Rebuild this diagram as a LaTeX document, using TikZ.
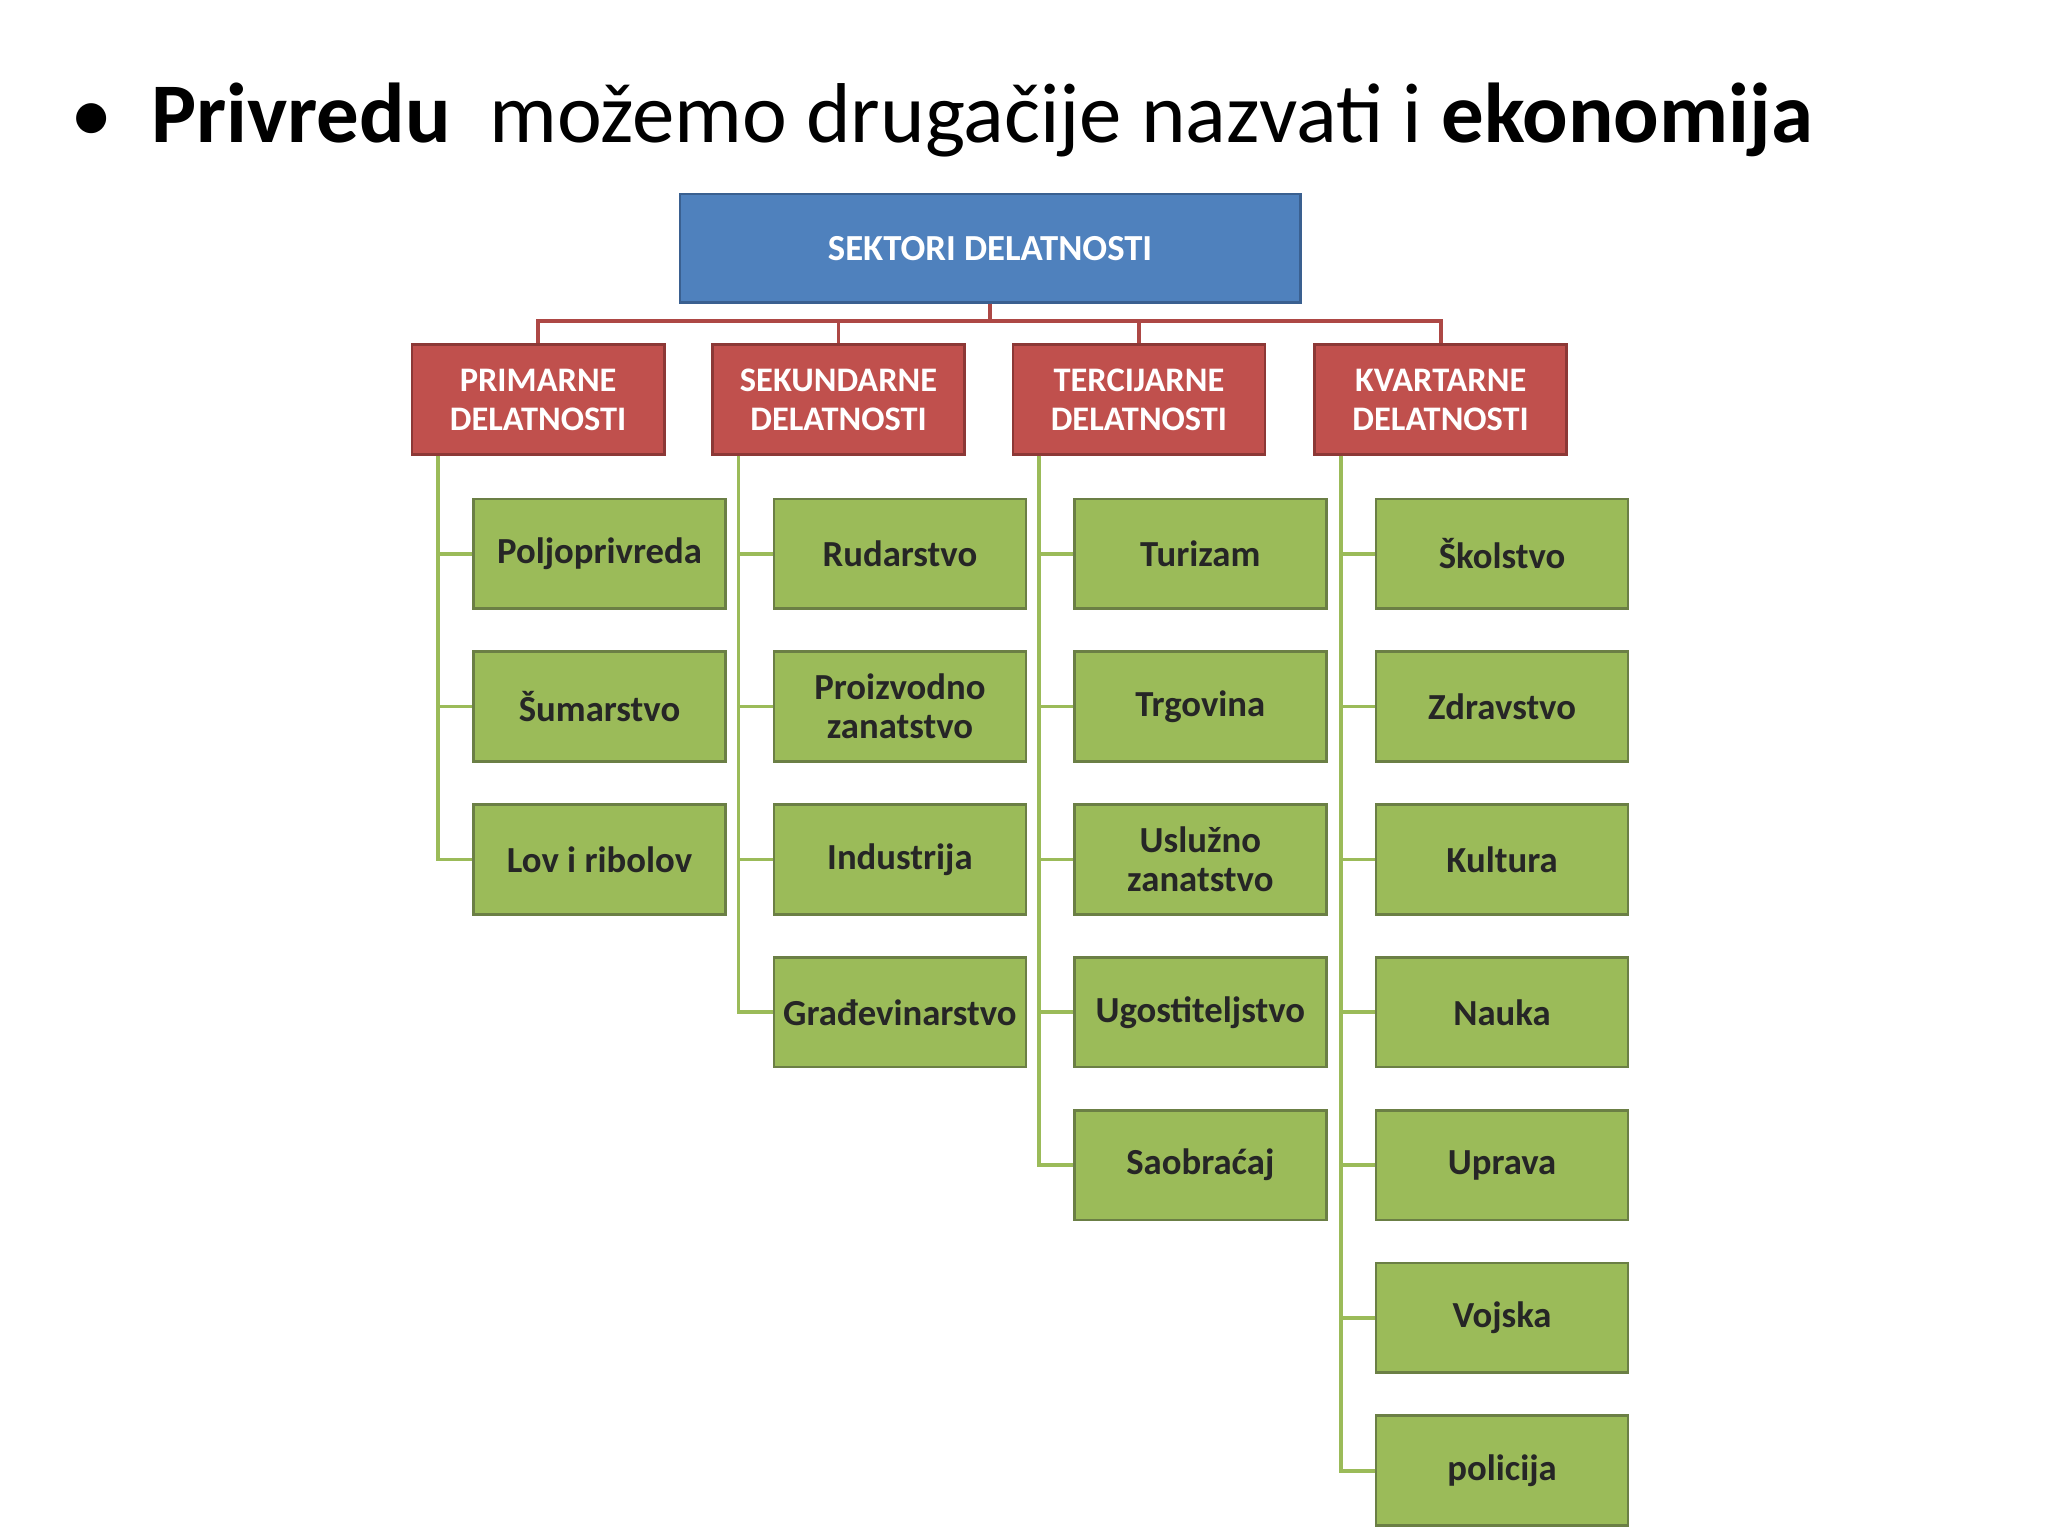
\documentclass[tikz,border=0pt]{standalone}
\usepackage{fontspec}
\setmainfont{Carlito}
\begin{document}
\begin{tikzpicture}[x=0.02cm,y=-0.02cm,
 box/.style={minimum width=3.86cm,minimum height=1.68cm,inner sep=1pt,align=center,line width=1.2pt,font=\bfseries\fontsize{16}{17}\selectfont},
 topbox/.style={box,minimum width=9.5cm,minimum height=1.66cm,fill=blueF,draw=blueD,text=white},
 redbox/.style={box,fill=redF,draw=redD,text=white,font=\bfseries\fontsize{15}{17}\selectfont},
 greenbox/.style={box,fill=greenF,draw=greenD,text=black!85},
 redline/.style={draw=redF!90!black,line width=1.6pt},
 greenline/.style={draw=greenF,line width=1.6pt}]
\definecolor{blueF}{HTML}{4F81BD}\definecolor{blueD}{HTML}{3A6090}
\definecolor{redF}{HTML}{C0504D}\definecolor{redD}{HTML}{8C3836}
\definecolor{greenF}{HTML}{9BBB59}\definecolor{greenD}{HTML}{6B7F45}
\useasboundingbox[fill=white] (0,0) rectangle (1568,1176);
\node[anchor=west,font=\fontsize{37}{40}\selectfont] (title) at (48,92) {\textbullet\hspace{0.45em}\textbf{Privredu}\ \ možemo drugačije nazvati i \textbf{ekonomija}};
\node[topbox] (top) at (758,190) {SEKTORI DELATNOSTI};
\coordinate (bus) at (758,246);
\foreach \n/\x/\t in {p/412/{PRIMARNE\\DELATNOSTI},s/642/{SEKUNDARNE\\DELATNOSTI},t/872/{TERCIJARNE\\DELATNOSTI},k/1103/{KVARTARNE\\DELATNOSTI}}{
 \node[redbox] (\n) at (\x,306) {\t};
 \draw[redline] (top.south) -- (top.south |- bus) -| (\n.north);
}
\foreach \n/\x/\list in {p/459/{Poljoprivreda,Šumarstvo,Lov i ribolov},
 s/689/{Rudarstvo,Proizvodno\\zanatstvo,Industrija,Građevinarstvo},
 t/919/{Turizam,Trgovina,Uslužno\\zanatstvo,Ugostiteljstvo,Saobraćaj},
 k/1150/{Školstvo,Zdravstvo,Kultura,Nauka,Uprava,Vojska,policija}}{
 \foreach \txt [count=\i] in \list {
  \node[greenbox] (\n g\i) at (\x,{424+117*(\i-1)}) {\txt};
  \draw[greenline] ([xshift=0.42cm]\n.south west) |- (\n g\i.west);
 }
}
\end{tikzpicture}
\end{document}
